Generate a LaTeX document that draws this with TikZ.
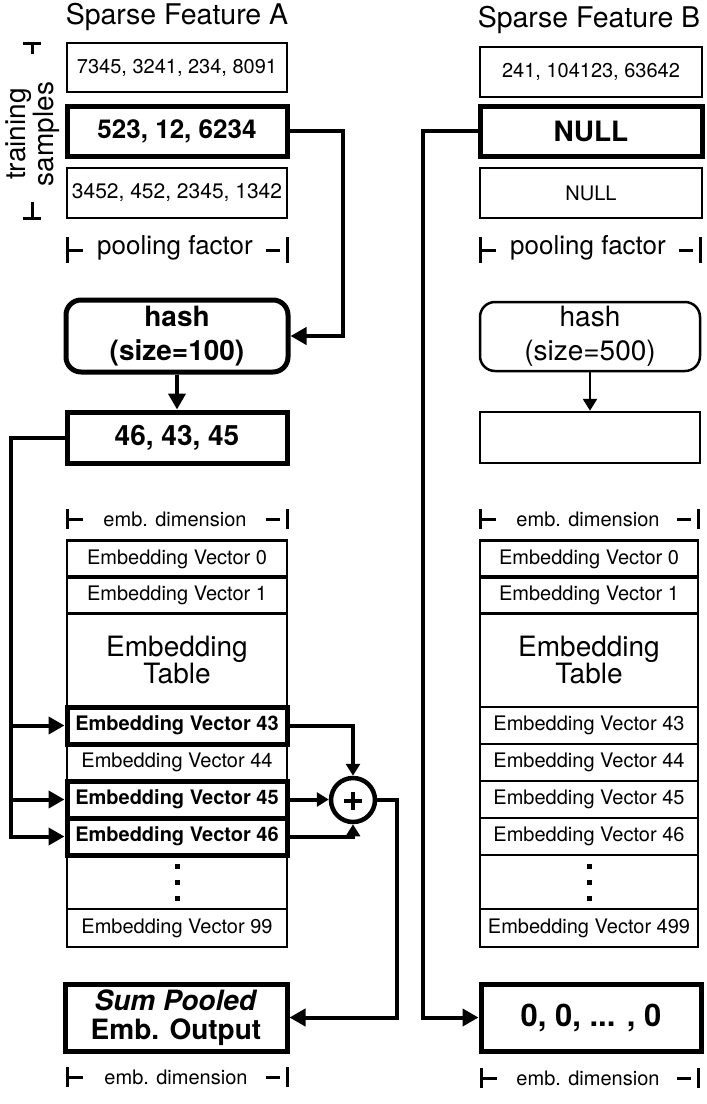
\documentclass[tikz,border=0pt]{standalone}
\usepackage{fontspec}
\setmainfont{TeX Gyre Heros}
\usepackage{tikz}
\usetikzlibrary{arrows.meta,shapes.misc}

\begin{document}
\begin{tikzpicture}[x=1pt,y=-1pt,
    cell/.style={draw,line width=2.5pt,inner sep=0pt,align=center,minimum height=37pt,font=\fontsize{20}{24}\selectfont},
    hot/.style={line width=5pt},
    conn/.style={line width=4pt},
    tip/.style={-{Stealth[inset=0pt,length=16pt,width=17pt]}},
    tipsmall/.style={-{Stealth[inset=0pt,length=12pt,width=14pt]}},
    brk/.style={line width=3pt},
    lbl/.style={inner sep=0pt,align=center}]
                \useasboundingbox (0,0) rectangle (707,1104);
                \node[lbl,font=\fontsize{28.5}{30}\selectfont] (headA) at (177,17) {Sparse Feature A};
                \node[lbl,font=\fontsize{28.5}{30}\selectfont] (headB) at (589,20) {Sparse Feature B};
                \node[lbl,rotate=90,font=\fontsize{28}{28}\selectfont] (train) at (33,134) {training\\samples};
                \draw[brk] (23,43) -- (41,43) (32,43) -- (32,54) (23,218) -- (41,218) (32,218) -- (32,202);
                \node[cell,minimum width=220,minimum height=49] (smpA1) at (177,67.5) {7345, 3241, 234, 8091};
                \node[cell,hot,minimum width=220,minimum height=50,font=\fontsize{26}{30}\selectfont\bfseries] (smpA2) at (177,131) {523, 12, 6234};
                \node[cell,minimum width=220,minimum height=50,font=\fontsize{21}{24}\selectfont] (smpA3) at (177,193) {3452, 452, 2345, 1342};
                \node[cell,minimum width=222,minimum height=50] (smpB1) at (591,72) {241, 104123, 63642};
                \node[cell,hot,minimum width=222,minimum height=50,font=\fontsize{28}{30}\selectfont\bfseries] (smpB2) at (591,131) {NULL};
                \node[cell,minimum width=222,minimum height=50] (smpB3) at (591,193) {NULL};
                \foreach \xa/\xb/\y/\h in {67/287/250/26,480/700/250/26,67/287/519/20,480/698/519/20,67/287/1077/20,481/698/1078/20}
                    {
                    \draw[brk] (\xa,\y-\h/2) -- (\xa,\y+\h/2) (\xa,\y) -- ++(16,0) (\xb-21,\y) -- ++(14,0) (\xb,\y-\h/2) -- (\xb,\y+\h/2);
                    }
                \node[lbl,font=\fontsize{26}{30}\selectfont] (poolA) at (175,248) {pooling factor};
                \node[lbl,font=\fontsize{26}{30}\selectfont] (poolB) at (588,248) {pooling factor};
                \node[lbl,font=\fontsize{20}{24}\selectfont] (dimA) at (175,519) {emb. dimension};
                \node[lbl,font=\fontsize{20}{24}\selectfont] (dimB) at (588,519) {emb. dimension};
                \node[lbl,font=\fontsize{20}{24}\selectfont] (outdimA) at (176,1077) {emb. dimension};
                \node[lbl,font=\fontsize{20}{24}\selectfont] (outdimB) at (588,1078) {emb. dimension};
                \node[cell,hot,rounded corners=15pt,minimum width=222,minimum height=72,font=\fontsize{28}{34}\selectfont\bfseries] (hashA) at (177,336) {hash\\(size=100)};
                \node[cell,rounded corners=15pt,minimum width=220,minimum height=69,font=\fontsize{28}{34}\selectfont] (hashB) at (590,336.5) {hash\\(size=500)};
                \node[cell,hot,minimum width=220,minimum height=51,font=\fontsize{28}{30}\selectfont\bfseries] (idxA) at (177,437.5) {46, 43, 45};
                \node[cell,minimum width=220,minimum height=51] (idxB) at (590,437.5) {};
                \foreach \col/\cx/\tw in {A/177/220,B/589/218}
                    {
                    \foreach \r/\cy in {0/559,1/595}
                        {
                        \node[cell,minimum width=\tw] (v\col\r) at (\cx,\cy) {Embedding Vector \r};
                    }
                    \node[cell,minimum width=\tw,minimum height=94,font=\fontsize{28}{27}\selectfont] (tab\col) at (\cx,660) {Embedding\\Table};
                    \node[cell,minimum width=\tw,minimum height=54] (dots\col) at (\cx,882) {};
                    \foreach \d in {-16,0,16}
                        {
                        \fill (\cx-2.5,882+\d-2.5) rectangle ++(5,5);
                    }
                }
                \foreach \r/\cy in {43/725.5,44/762.5,45/799.5,46/836.5}
                    {
                    \node[cell,minimum width=218] (vB\r) at (589,\cy) {Embedding Vector \r};
                }
                \node[cell,minimum width=218,minimum height=38] (vB499) at (589,928) {Embedding Vector 499};
                \node[cell,minimum width=220] (vA44) at (177,762.5) {Embedding Vector 44};
                \foreach \r/\cy in {43/725.5,45/799.5,46/836.5}
                    {
                    \node[cell,hot,minimum width=220,font=\fontsize{20}{24}\selectfont\bfseries] (vA\r) at (177,\cy) {Embedding Vector \r};
                }
                \node[cell,minimum width=220,minimum height=38] (vA99) at (177,928) {Embedding Vector 99};
                \node[circle,draw,line width=4.5pt,minimum size=44pt,inner sep=0pt] (plus) at (353,800) {};
                \draw[line width=4.5pt] (plus.center) ++(-9,1) -- ++(18,0) (plus.center) ++(0,-8) -- ++(0,18);
                \node[cell,hot,minimum width=222,minimum height=67,font=\fontsize{28}{29}\selectfont\bfseries] (outA) at (176,1017.5) {\textit{Sum Pooled}\\Emb. Output};
                \node[cell,hot,minimum width=220,minimum height=67,font=\fontsize{31}{34}\selectfont\bfseries] (outB) at (591,1017.5) {0, 0, ... , 0};
                \draw[conn,tip] (smpA2.east) -- ++(53,0) |- (hashA.east);
                \draw[conn,tip] (hashA.south) -- (idxA.north);
                \draw[line width=2.5pt,tipsmall] (hashB.south) -- (idxB.north);
                \draw[conn,tip] (idxA.west) -- ++(-54,0) coordinate (busA) |- (vA46.west);
                \foreach \r in {43,45}
                    {
                    \draw[conn,tip] (busA |- vA\r.west) -- (vA\r.west);
                }
                \draw[conn,tipsmall] (vA43.east) -| (plus.north);
                \draw[conn,tipsmall] (vA45.east) -- (vA45.east -| plus.west);
                \draw[conn,tipsmall] (vA46.east) -| (plus.south);
                \draw[conn,tip] (plus.east) -- ++(20,0) |- (outA.east);
                \draw[conn,tip] (smpB2.west) -- ++(-55,0) |- (outB.west);
\end{tikzpicture}
\end{document}
